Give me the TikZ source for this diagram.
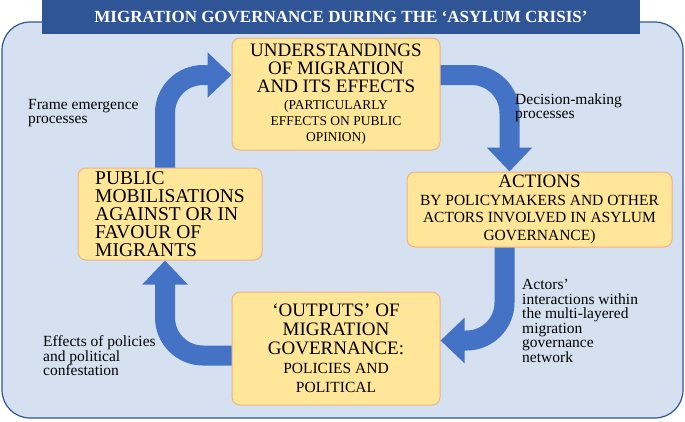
\documentclass[tikz,border=0pt]{standalone}
\usepackage{fontspec}
\setmainfont{Liberation Serif}
\usetikzlibrary{arrows.meta}
\definecolor{bgblue}{HTML}{D5E1F0}
\definecolor{dblue}{HTML}{2F5597}
\definecolor{ablue}{HTML}{4472C4}
\definecolor{ybox}{HTML}{FFE699}
\definecolor{ybord}{HTML}{F4B183}
\newcommand{\bigf}{\fontsize{19}{18}\selectfont}
\newcommand{\smf}{\fontsize{13.5}{16}\selectfont}
\newcommand{\midf}{\fontsize{15.5}{18}\selectfont}
\tikzset{
 box/.style={draw=ybord,line width=1pt,fill=ybox,rounded corners=8pt,align=center,inner sep=2pt},
 flow/.style={draw=ablue,line width=20pt,rounded corners=38pt,-{Triangle[width=44pt,length=24pt]}},
 lbl/.style={align=left,font=\fontsize{15.5}{14.5}\selectfont,inner sep=0pt},
}
\begin{document}
\begin{tikzpicture}[x=1pt,y=-1pt]
\useasboundingbox (0,0) rectangle (685,421);
\draw[draw=dblue,line width=1.2pt,fill=bgblue,rounded corners=28pt] (2,22) rectangle (683,418);
\node[fill=dblue,minimum width=598pt,minimum height=34pt,inner sep=0pt,text=white,font=\bfseries\fontsize{17}{17}\selectfont] (title) at (341,17) {MIGRATION GOVERNANCE DURING THE ‘ASYLUM CRISIS’};
\node[box,minimum width=208pt,minimum height=112pt,font=\bigf] (top) at (336,94) {UNDERSTANDINGS\\OF MIGRATION\\AND ITS EFFECTS\\[-1pt]\smf (PARTICULARLY\\[-2pt]\smf EFFECTS ON PUBLIC\\[-2pt]\smf OPINION)};
\node[box,minimum width=265pt,minimum height=75pt,font=\fontsize{15.5}{17.5}\selectfont] (right) at (539.5,209.5) {\fontsize{19}{18}\selectfont ACTIONS\\BY POLICYMAKERS AND OTHER\\ACTORS INVOLVED IN ASYLUM\\GOVERNANCE)};
\node[box,minimum width=208pt,minimum height=113pt,font=\fontsize{19}{19}\selectfont] (bottom) at (336,348.5) {‘OUTPUTS’ OF\\MIGRATION\\GOVERNANCE:\\\midf POLICIES AND\\\midf POLITICAL};
\node[box,minimum width=184pt,minimum height=92pt,align=left,font=\fontsize{19.5}{18}\selectfont] (left) at (170,214) {PUBLIC\\MOBILISATIONS\\AGAINST OR IN\\FAVOUR OF\\MIGRANTS};
\draw[flow] ([xshift=-5pt]left.north) |- ([yshift=19pt]top.west);
\draw[flow] ([yshift=19pt]top.east) -| ([xshift=-30pt]right.north);
\draw[flow] ([xshift=-35pt]right.south) |- ([yshift=8pt]bottom.east);
\draw[flow] ([yshift=-7pt]bottom.west) -| ([xshift=-5pt]left.south);
\node[lbl,anchor=west] (l1) at (28,113) {Frame emergence\\processes};
\node[lbl,anchor=west] (l2) at (515,108) {Decision-making\\processes};
\node[lbl,anchor=north west] (l3) at (522,279) {Actors’\\interactions within\\the multi-layered\\migration\\governance\\network};
\node[lbl,anchor=west] (l4) at (43,356) {Effects of policies\\and political\\confestation};
\end{tikzpicture}
\end{document}
